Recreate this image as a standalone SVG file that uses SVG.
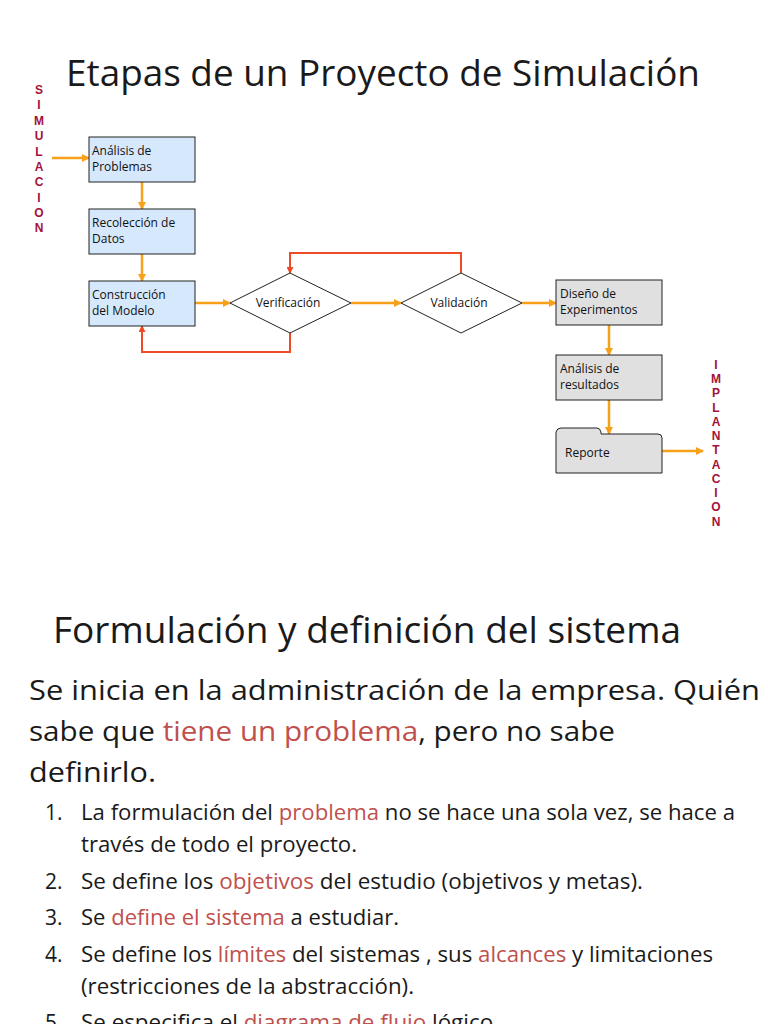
<svg xmlns="http://www.w3.org/2000/svg" width="768" height="1024" viewBox="0 0 768 1024">
<style>
.t{font-family:"Open Sans","Liberation Sans",sans-serif;fill:#1a1a1a}
.n{font-family:"Open Sans","Liberation Sans",sans-serif;font-size:12px;fill:#111}
.v{font-family:"Liberation Sans",sans-serif;font-weight:bold;font-size:12px;fill:#a3123a;text-anchor:middle}
.b{fill:#d6e8fb;stroke:#222;stroke-width:1}
.g{fill:#e0e0e0;stroke:#222;stroke-width:1}
.d{fill:#fff;stroke:#222;stroke-width:1}
.o{stroke:#f7a11a;stroke-width:2.5;fill:none}
.r{stroke:#f04a24;stroke-width:2;fill:none}
.h{fill:#c0504d}
</style>
<defs>
<marker id="ao" markerWidth="8" markerHeight="8" refX="7" refY="4" orient="auto" markerUnits="userSpaceOnUse"><path d="M0,0 L8,4 L0,8 z" fill="#f7a11a"/></marker>
<marker id="ar" markerWidth="7" markerHeight="7" refX="6" refY="3.5" orient="auto" markerUnits="userSpaceOnUse"><path d="M0,0 L7,3.5 L0,7 z" fill="#f04a24"/></marker>
</defs>
<rect width="768" height="1024" fill="#fff"/>
<text class="t" x="383" y="86" font-size="36" text-anchor="middle" textLength="634" lengthAdjust="spacingAndGlyphs">Etapas de un Proyecto de Simulación</text>
<g id="simulacion"><text class="v" x="39" y="94">S</text><text class="v" x="39" y="109">I</text><text class="v" x="39" y="125">M</text><text class="v" x="39" y="140">U</text><text class="v" x="39" y="156">L</text><text class="v" x="39" y="171">A</text><text class="v" x="39" y="186">C</text><text class="v" x="39" y="202">I</text><text class="v" x="39" y="217">O</text><text class="v" x="39" y="232">N</text></g>
<g id="implantacion"><text class="v" x="716" y="369">I</text><text class="v" x="716" y="383">M</text><text class="v" x="716" y="397">P</text><text class="v" x="716" y="412">L</text><text class="v" x="716" y="426">A</text><text class="v" x="716" y="440">N</text><text class="v" x="716" y="454">T</text><text class="v" x="716" y="469">A</text><text class="v" x="716" y="483">C</text><text class="v" x="716" y="497">I</text><text class="v" x="716" y="511">O</text><text class="v" x="716" y="526">N</text></g>
<g id="connectors">
<line class="o" x1="52" y1="158" x2="89" y2="158" marker-end="url(#ao)"/>
<line class="o" x1="142" y1="182" x2="142" y2="209" marker-end="url(#ao)"/>
<line class="o" x1="142" y1="254" x2="142" y2="281" marker-end="url(#ao)"/>
<line class="o" x1="195" y1="303" x2="230" y2="303" marker-end="url(#ao)"/>
<line class="o" x1="351" y1="303" x2="401" y2="303" marker-end="url(#ao)"/>
<line class="o" x1="522" y1="303" x2="556" y2="303" marker-end="url(#ao)"/>
<line class="o" x1="609" y1="325" x2="609" y2="355" marker-end="url(#ao)"/>
<line class="o" x1="609" y1="400" x2="609" y2="434" marker-end="url(#ao)"/>
<line class="o" x1="662" y1="451" x2="703" y2="451" marker-end="url(#ao)"/>
<polyline class="r" points="461,273 461,253 290,253 290,273" marker-end="url(#ar)"/>
<polyline class="r" points="290,333 290,352 142,352 142,326" marker-end="url(#ar)"/>
</g>
<g id="n1"><rect class="b" x="89" y="137" width="106" height="45"/><text class="n" x="92" y="155">Análisis de</text><text class="n" x="92" y="171">Problemas</text></g>
<g id="n2"><rect class="b" x="89" y="209" width="106" height="45"/><text class="n" x="92" y="227">Recolección de</text><text class="n" x="92" y="243">Datos</text></g>
<g id="n3"><rect class="b" x="89" y="281" width="106" height="45"/><text class="n" x="92" y="299">Construcción</text><text class="n" x="92" y="315">del Modelo</text></g>
<g id="n4"><polygon class="d" points="230,303 290,273 351,303 290,333"/><text class="n" x="288" y="307" text-anchor="middle">Verificación</text></g>
<g id="n5"><polygon class="d" points="401,303 461,273 522,303 461,333"/><text class="n" x="459" y="307" text-anchor="middle">Validación</text></g>
<g id="n6"><rect class="g" x="556" y="280" width="106" height="45"/><text class="n" x="560" y="298">Diseño de</text><text class="n" x="560" y="314">Experimentos</text></g>
<g id="n7"><rect class="g" x="556" y="355" width="106" height="45"/><text class="n" x="560" y="373">Análisis de</text><text class="n" x="560" y="389">resultados</text></g>
<g id="n8"><path class="g" d="M556,473 L556,432 Q557,428 561,428 L597,428 Q600,428 601,432 L601,434 L658,434 Q662,434 662,438 L662,473 Z"/><text class="n" x="565" y="457">Reporte</text></g>
<text class="t" x="53" y="643" font-size="36" textLength="628" lengthAdjust="spacingAndGlyphs">Formulación y definición del sistema</text>
<g class="t" font-size="28">
<text x="29" y="700" textLength="731" lengthAdjust="spacingAndGlyphs">Se inicia en la administración de la empresa. Quién</text>
<text x="29" y="741" textLength="586" lengthAdjust="spacingAndGlyphs">sabe que <tspan class="h">tiene un problema</tspan>, pero no sabe</text>
<text x="29" y="782" textLength="127" lengthAdjust="spacingAndGlyphs">definirlo.</text>
</g>
<g class="t" font-size="21">
<text x="45" y="820">1.</text><text x="81" y="820" textLength="654" lengthAdjust="spacingAndGlyphs">La formulación del <tspan class="h">problema</tspan> no se hace una sola vez, se hace a</text>
<text x="81" y="852" textLength="276" lengthAdjust="spacingAndGlyphs">través de todo el proyecto.</text>
<text x="45" y="889">2.</text><text x="81" y="889" textLength="562" lengthAdjust="spacingAndGlyphs">Se define los <tspan class="h">objetivos</tspan> del estudio (objetivos y metas).</text>
<text x="45" y="925">3.</text><text x="81" y="925" textLength="318" lengthAdjust="spacingAndGlyphs">Se <tspan class="h">define el sistema</tspan> a estudiar.</text>
<text x="45" y="962">4.</text><text x="81" y="962" textLength="632" lengthAdjust="spacingAndGlyphs">Se define los <tspan class="h">límites</tspan> del sistemas , sus <tspan class="h">alcances</tspan> y limitaciones</text>
<text x="81" y="994" textLength="333" lengthAdjust="spacingAndGlyphs">(restricciones de la abstracción).</text>
<text x="45" y="1030">5.</text><text x="81" y="1030" textLength="418" lengthAdjust="spacingAndGlyphs">Se especifica el <tspan class="h">diagrama de flujo</tspan> lógico.</text>
</g>
</svg>
